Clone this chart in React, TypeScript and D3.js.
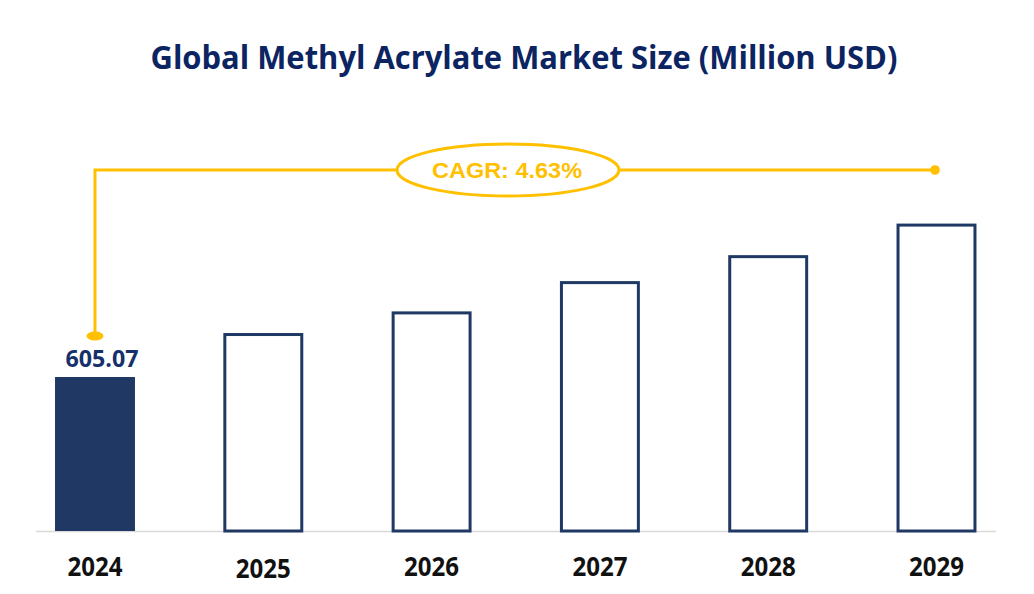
import React from "react";
import * as d3 from "d3";

const years = ["2024", "2025", "2026", "2027", "2028", "2029"];
const values = [605.07, 772, 857, 976, 1078, 1202];
const valueLabels = ["605.07"];
const cagrText = "CAGR: 4.63%";
const title = "Global Methyl Acrylate Market Size (Million USD)";

const W = 1034;
const H = 594;
const NAVY = "#1F3864";
const GOLD = "#FFC000";

export default function App() {
  const x = d3
    .scaleBand<string>()
    .domain(years)
    .range([10.85, 1020.65])
    .paddingInner(0.525)
    .paddingOuter(0.2625);
  const y = d3.scaleLinear().domain([0, 1300]).range([531, 200.15]);
  const bw = x.bandwidth();

  const firstCx = (x(years[0]) as number) + bw / 2;
  const lastCx = (x(years[years.length - 1]) as number) + bw / 2;
  const lineY = 170;
  const dotY = y(values[0]) - 41;
  const ellCx = 508;

  return (
    <svg
      width={W}
      height={H}
      style={{ position: "absolute", left: 0, top: 0, display: "block", background: "#fff" }}
    >
      <text
        x={524}
        y={69}
        textAnchor="middle"
        fontFamily="'Open Sans', sans-serif"
        fontWeight={700}
        fontSize={31.5}
        fill="#0C2461"
        textLength={747}
        lengthAdjust="spacingAndGlyphs"
      >
        {title}
      </text>

      {/* baseline */}
      <line x1={36} x2={996} y1={531.5} y2={531.5} stroke="#D9D9D9" strokeWidth={1.5} />

      {/* bars */}
      {years.map((yr, i) => {
        const bx = x(yr) as number;
        const top = y(values[i]);
        if (i === 0) {
          return <rect key={yr} x={bx} y={top} width={bw} height={y(0) - top} fill={NAVY} />;
        }
        return (
          <rect
            key={yr}
            x={bx + 1.5}
            y={top}
            width={bw - 3}
            height={y(0) - top}
            fill="#fff"
            stroke={NAVY}
            strokeWidth={3}
          />
        );
      })}

      {/* value label */}
      <text
        x={firstCx + 7}
        y={y(values[0]) - 10}
        textAnchor="middle"
        fontFamily="'Open Sans', sans-serif"
        fontWeight={700}
        fontSize={23}
        fill="#15306A"
        textLength={73}
        lengthAdjust="spacingAndGlyphs"
      >
        {valueLabels[0]}
      </text>

      {/* year labels */}
      {years.map((yr) => (
        <text
          key={yr}
          x={(x(yr) as number) + bw / 2}
          y={575.5 + (yr === "2025" ? 2 : 0)}
          textAnchor="middle"
          fontFamily="'Open Sans', sans-serif"
          fontWeight={700}
          fontSize={27}
          fill="#111"
          textLength={55}
          lengthAdjust="spacingAndGlyphs"
        >
          {yr}
        </text>
      ))}

      {/* CAGR connector */}
      <path
        d={`M${firstCx},${dotY} V${lineY} H${lastCx}`}
        fill="none"
        stroke={GOLD}
        strokeWidth={3}
      />
      <ellipse cx={firstCx} cy={dotY} rx={8.5} ry={4.5} fill={GOLD} />
      <circle cx={lastCx - 1.5} cy={lineY} r={4.8} fill={GOLD} />
      <ellipse cx={ellCx} cy={lineY} rx={111} ry={26} fill="#fff" stroke={GOLD} strokeWidth={3} />
      <text
        x={ellCx - 1}
        y={lineY + 8}
        textAnchor="middle"
        fontFamily="'Liberation Sans', Arial, sans-serif"
        fontWeight={700}
        fontSize={22}
        fill={GOLD}
        textLength={150}
        lengthAdjust="spacingAndGlyphs"
      >
        {cagrText}
      </text>
    </svg>
  );
}
